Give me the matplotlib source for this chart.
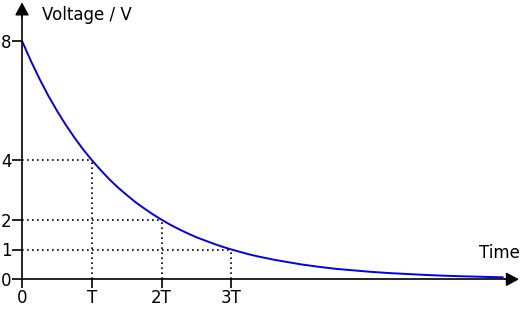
import matplotlib.pyplot as plt

# decay curve (time in units of T, voltage in V)
t = [0, 0.125, 0.25, 0.375, 0.5, 0.625, 0.75, 0.875, 1, 1.125, 1.25, 1.375, 1.5,
     1.625, 1.75, 1.875, 2, 2.125, 2.25, 2.375, 2.5, 2.625, 2.75, 2.875, 3,
     3.125, 3.25, 3.375, 3.5, 3.625, 3.75, 3.875, 4, 4.25, 4.5, 4.75, 5, 5.25,
     5.5, 5.75, 6, 6.25, 6.5, 6.75, 6.9]
v = [8, 7.34, 6.73, 6.17, 5.66, 5.19, 4.76, 4.36, 4, 3.67, 3.36, 3.08, 2.83,
     2.59, 2.38, 2.18, 2, 1.83, 1.68, 1.54, 1.41, 1.3, 1.19, 1.09, 1,
     0.92, 0.84, 0.77, 0.71, 0.65, 0.6, 0.55, 0.5, 0.42, 0.35, 0.3, 0.25, 0.21,
     0.18, 0.15, 0.125, 0.105, 0.09, 0.074, 0.067]

# half-life markers
mark_t = [1, 2, 3]
mark_v = [4, 2, 1]

xticks = [0, 1, 2, 3]
xticklabels = ["0", "T", "2T", "3T"]
yticks = [0, 1, 2, 4, 8]
yticklabels = ["0", "1", "2", "4", "8"]

fig = plt.figure(figsize=(5.23, 3.10), dpi=100)
ax = fig.add_axes([0, 0, 1, 1])
ax.patch.set_alpha(0)
ax.set_xlim(-22 / 69.8, 501 / 69.8)
ax.set_ylim(-30.7 / 29.8, 279.3 / 29.8)

x_tip = 497 / 69.8
y_tip = 277 / 29.8

for s in ["top", "right"]:
    ax.spines[s].set_visible(False)
ax.spines["left"].set_position(("data", 0))
ax.spines["bottom"].set_position(("data", 0))
ax.spines["left"].set_bounds(0, y_tip - 0.2)
ax.spines["bottom"].set_bounds(0, x_tip - 0.1)
ax.spines["left"].set_linewidth(1.2)
ax.spines["bottom"].set_linewidth(1.2)

arrow = dict(arrowstyle="-|>,head_length=0.65,head_width=0.35", color="black",
             lw=1.1, shrinkA=0, shrinkB=0, mutation_scale=12)
ax.annotate("", xy=(0, y_tip), xytext=(0, y_tip - 0.5), arrowprops=arrow)
ax.annotate("", xy=(x_tip, 0), xytext=(x_tip - 0.2, 0), arrowprops=arrow)

ax.set_xticks(xticks, xticklabels)
ax.set_yticks(yticks, yticklabels)
ax.tick_params(axis="x", direction="out", length=6.5, width=1.2, pad=0.5, labelsize=12)
ax.tick_params(axis="y", direction="out", length=7, width=1.2, pad=0.5, labelsize=12)

for mt, mv in zip(mark_t, mark_v):
    ax.plot([0, mt], [mv, mv], color="black", linestyle=(0, (1, 2)), lw=1.2)
    ax.plot([mt, mt], [0, mv], color="black", linestyle=(0, (1, 2)), lw=1.2)

ax.plot(t, v, color="#0000ee", lw=1.4, solid_capstyle="butt")

ax.text(20 / 69.8, 264 / 29.8, "Voltage / V", fontsize=12, va="center", ha="left")
ax.text(498 / 69.8, 26 / 29.8, "Time", fontsize=12, va="center", ha="right")

fig.savefig("out.png", dpi=100)
